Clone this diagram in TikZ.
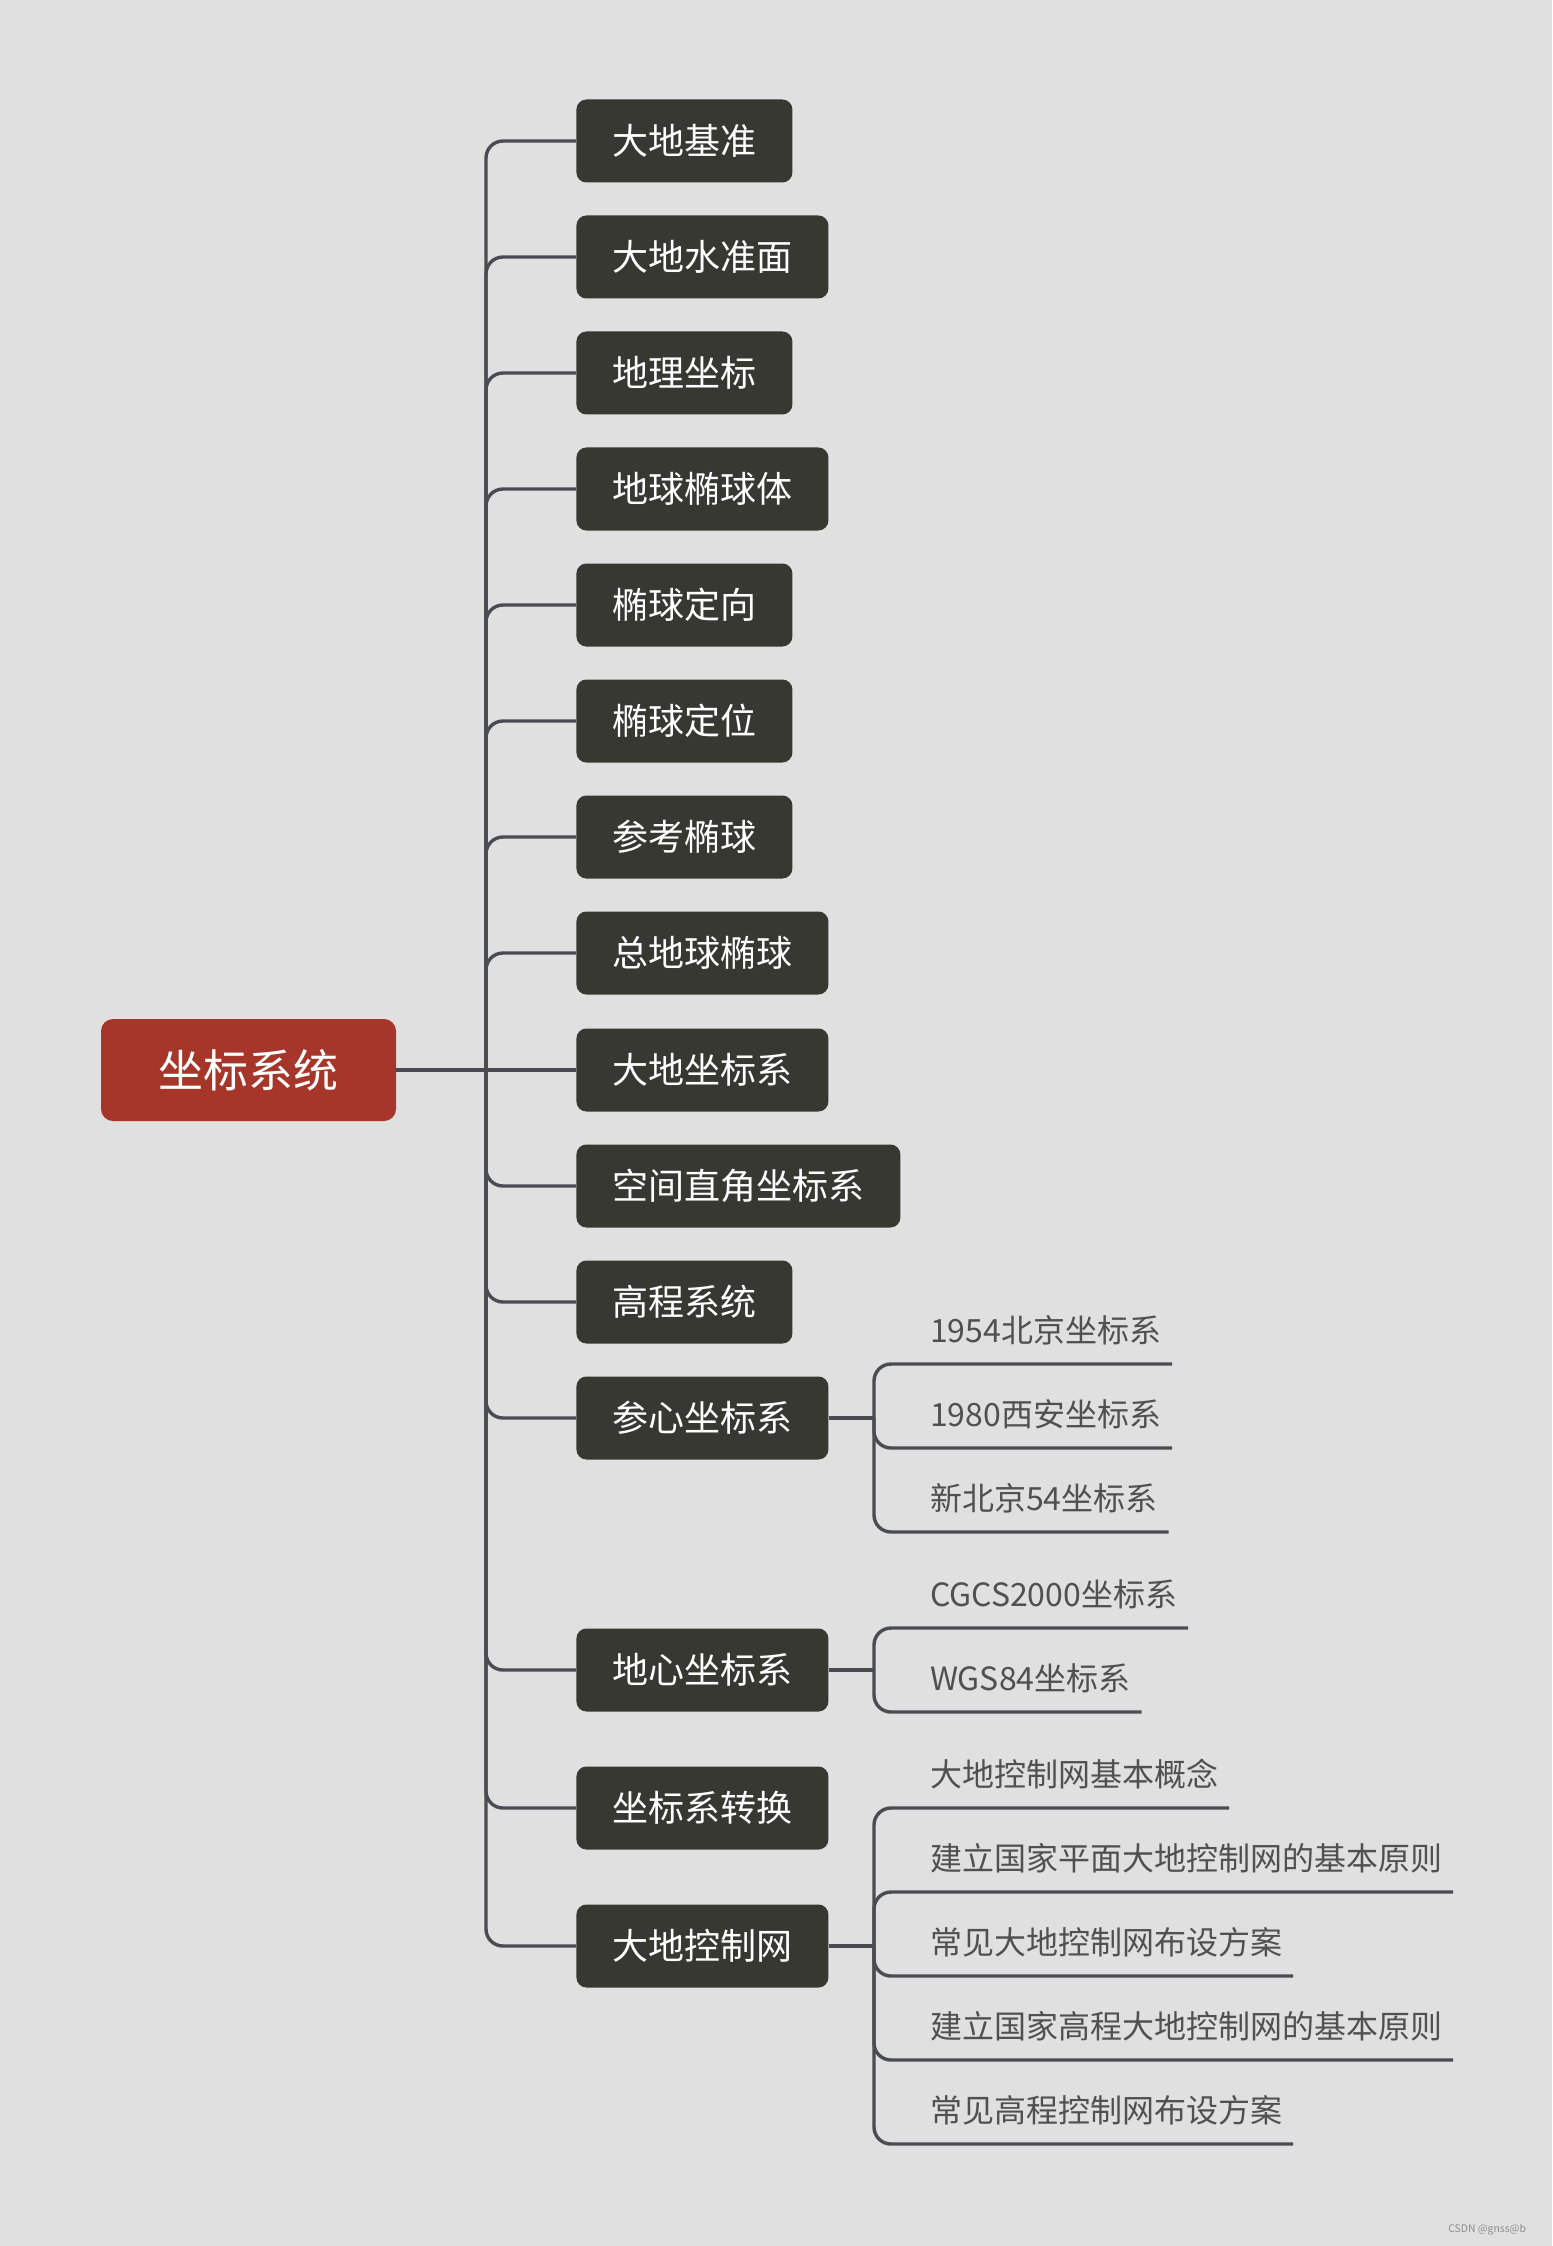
\documentclass[tikz,border=0pt]{standalone}
\usepackage{fontspec}
\usepackage{xcolor}
\setmainfont{Noto Sans CJK SC}
\definecolor{paper}{HTML}{E0E0E0}
\definecolor{rootred}{HTML}{A6362A}
\definecolor{topicgray}{HTML}{383833}
\definecolor{linegray}{HTML}{4B4B52}
\definecolor{leafgray}{HTML}{505050}

\begin{document}
\begin{tikzpicture}[x=0.5pt,y=-0.5pt,
	  root/.style={fill=rootred,text=white,rounded corners=6pt,minimum width=147.5pt,
	    minimum height=51pt,font=\fontsize{22.5}{27}\selectfont},
	  topic/.style={fill=topicgray,text=white,rounded corners=5pt,anchor=west,
	    minimum height=41.5pt,inner xsep=18pt,font=\fontsize{18}{22}\selectfont},
	  leaf/.style={anchor=south west,inner xsep=5.5pt,inner ysep=0pt,outer sep=0pt,
	    text depth=10.75pt,text=leafgray,font=\fontsize{16}{19}\selectfont},
	  link/.style={draw=linegray,line width=1.7pt,rounded corners=8.5pt}]

	  \fill[paper] (0,0) rectangle (1552,2246);
	  \useasboundingbox (0,0) rectangle (1552,2246);

	  \node[root] (root) at (248.5,1070) {坐标系统};

	  \node[topic] (datum) at (576,141) {大地基准};
	  \node[topic] (geoid) at (576,257) {大地水准面};
	  \node[topic] (geog) at (576,373) {地理坐标};
	  \node[topic] (ellip) at (576,489) {地球椭球体};
	  \node[topic] (orient) at (576,605) {椭球定向};
	  \node[topic] (posit) at (576,721) {椭球定位};
	  \node[topic] (refell) at (576,837) {参考椭球};
	  \node[topic] (global) at (576,953) {总地球椭球};
	  \node[topic] (geod) at (576,1070) {大地坐标系};
	  \node[topic] (space) at (576,1186) {空间直角坐标系};
	  \node[topic] (height) at (576,1302) {高程系统};
	  \node[topic] (refcs) at (576,1418) {参心坐标系};
	  \node[topic] (geocs) at (576,1670) {地心坐标系};
	  \node[topic] (trans) at (576,1808) {坐标系转换};
	  \node[topic] (ctrl) at (576,1946) {大地控制网};

	  \node[leaf] (refcs1) at (919,1364) {1954北京坐标系};
	  \node[leaf] (refcs2) at (919,1448) {1980西安坐标系};
	  \node[leaf] (refcs3) at (919,1532) {新北京54坐标系};

	  \node[leaf] (geocs1) at (919,1628) {CGCS2000坐标系};
	  \node[leaf] (geocs2) at (919,1712) {WGS84坐标系};

	  \node[leaf] (ctrl1) at (919,1808) {大地控制网基本概念};
	  \node[leaf] (ctrl2) at (919,1892) {建立国家平面大地控制网的基本原则};
	  \node[leaf] (ctrl3) at (919,1976) {常见大地控制网布设方案};
	  \node[leaf] (ctrl4) at (919,2060) {建立国家高程大地控制网的基本原则};
	  \node[leaf] (ctrl5) at (919,2144) {常见高程控制网布设方案};

	  \node[anchor=east,text=black!45,font=\fontsize{5.2}{7}\selectfont] (mark) at (1533,2230) {CSDN @gnss@b};

	  \coordinate (hub) at (486,1070);
	  \draw[link] (root.east) -- (hub);
	  \draw[link] (hub) |- (datum.west);
	  \draw[link] (hub) |- (geoid.west);
	  \draw[link] (hub) |- (geog.west);
	  \draw[link] (hub) |- (ellip.west);
	  \draw[link] (hub) |- (orient.west);
	  \draw[link] (hub) |- (posit.west);
	  \draw[link] (hub) |- (refell.west);
	  \draw[link] (hub) |- (global.west);
	  \draw[link] (hub) -- (geod.west);
	  \draw[link] (hub) |- (space.west);
	  \draw[link] (hub) |- (height.west);
	  \draw[link] (hub) |- (refcs.west);
	  \draw[link] (hub) |- (geocs.west);
	  \draw[link] (hub) |- (trans.west);
	  \draw[link] (hub) |- (ctrl.west);

	  \draw[link] (refcs.east) -- (874,1418) coordinate (refcsj);
	  \draw[link] (refcsj) |- (refcs1.south east);
	  \draw[link] (refcsj) |- (refcs2.south east);
	  \draw[link] (refcsj) |- (refcs3.south east);

	  \draw[link] (geocs.east) -- (874,1670) coordinate (geocsj);
	  \draw[link] (geocsj) |- (geocs1.south east);
	  \draw[link] (geocsj) |- (geocs2.south east);

	  \draw[link] (ctrl.east) -- (874,1946) coordinate (ctrlj);
	  \draw[link] (ctrlj) |- (ctrl1.south east);
	  \draw[link] (ctrlj) |- (ctrl2.south east);
	  \draw[link] (ctrlj) |- (ctrl3.south east);
	  \draw[link] (ctrlj) |- (ctrl4.south east);
	  \draw[link] (ctrlj) |- (ctrl5.south east);
	\end{tikzpicture}
\end{document}
